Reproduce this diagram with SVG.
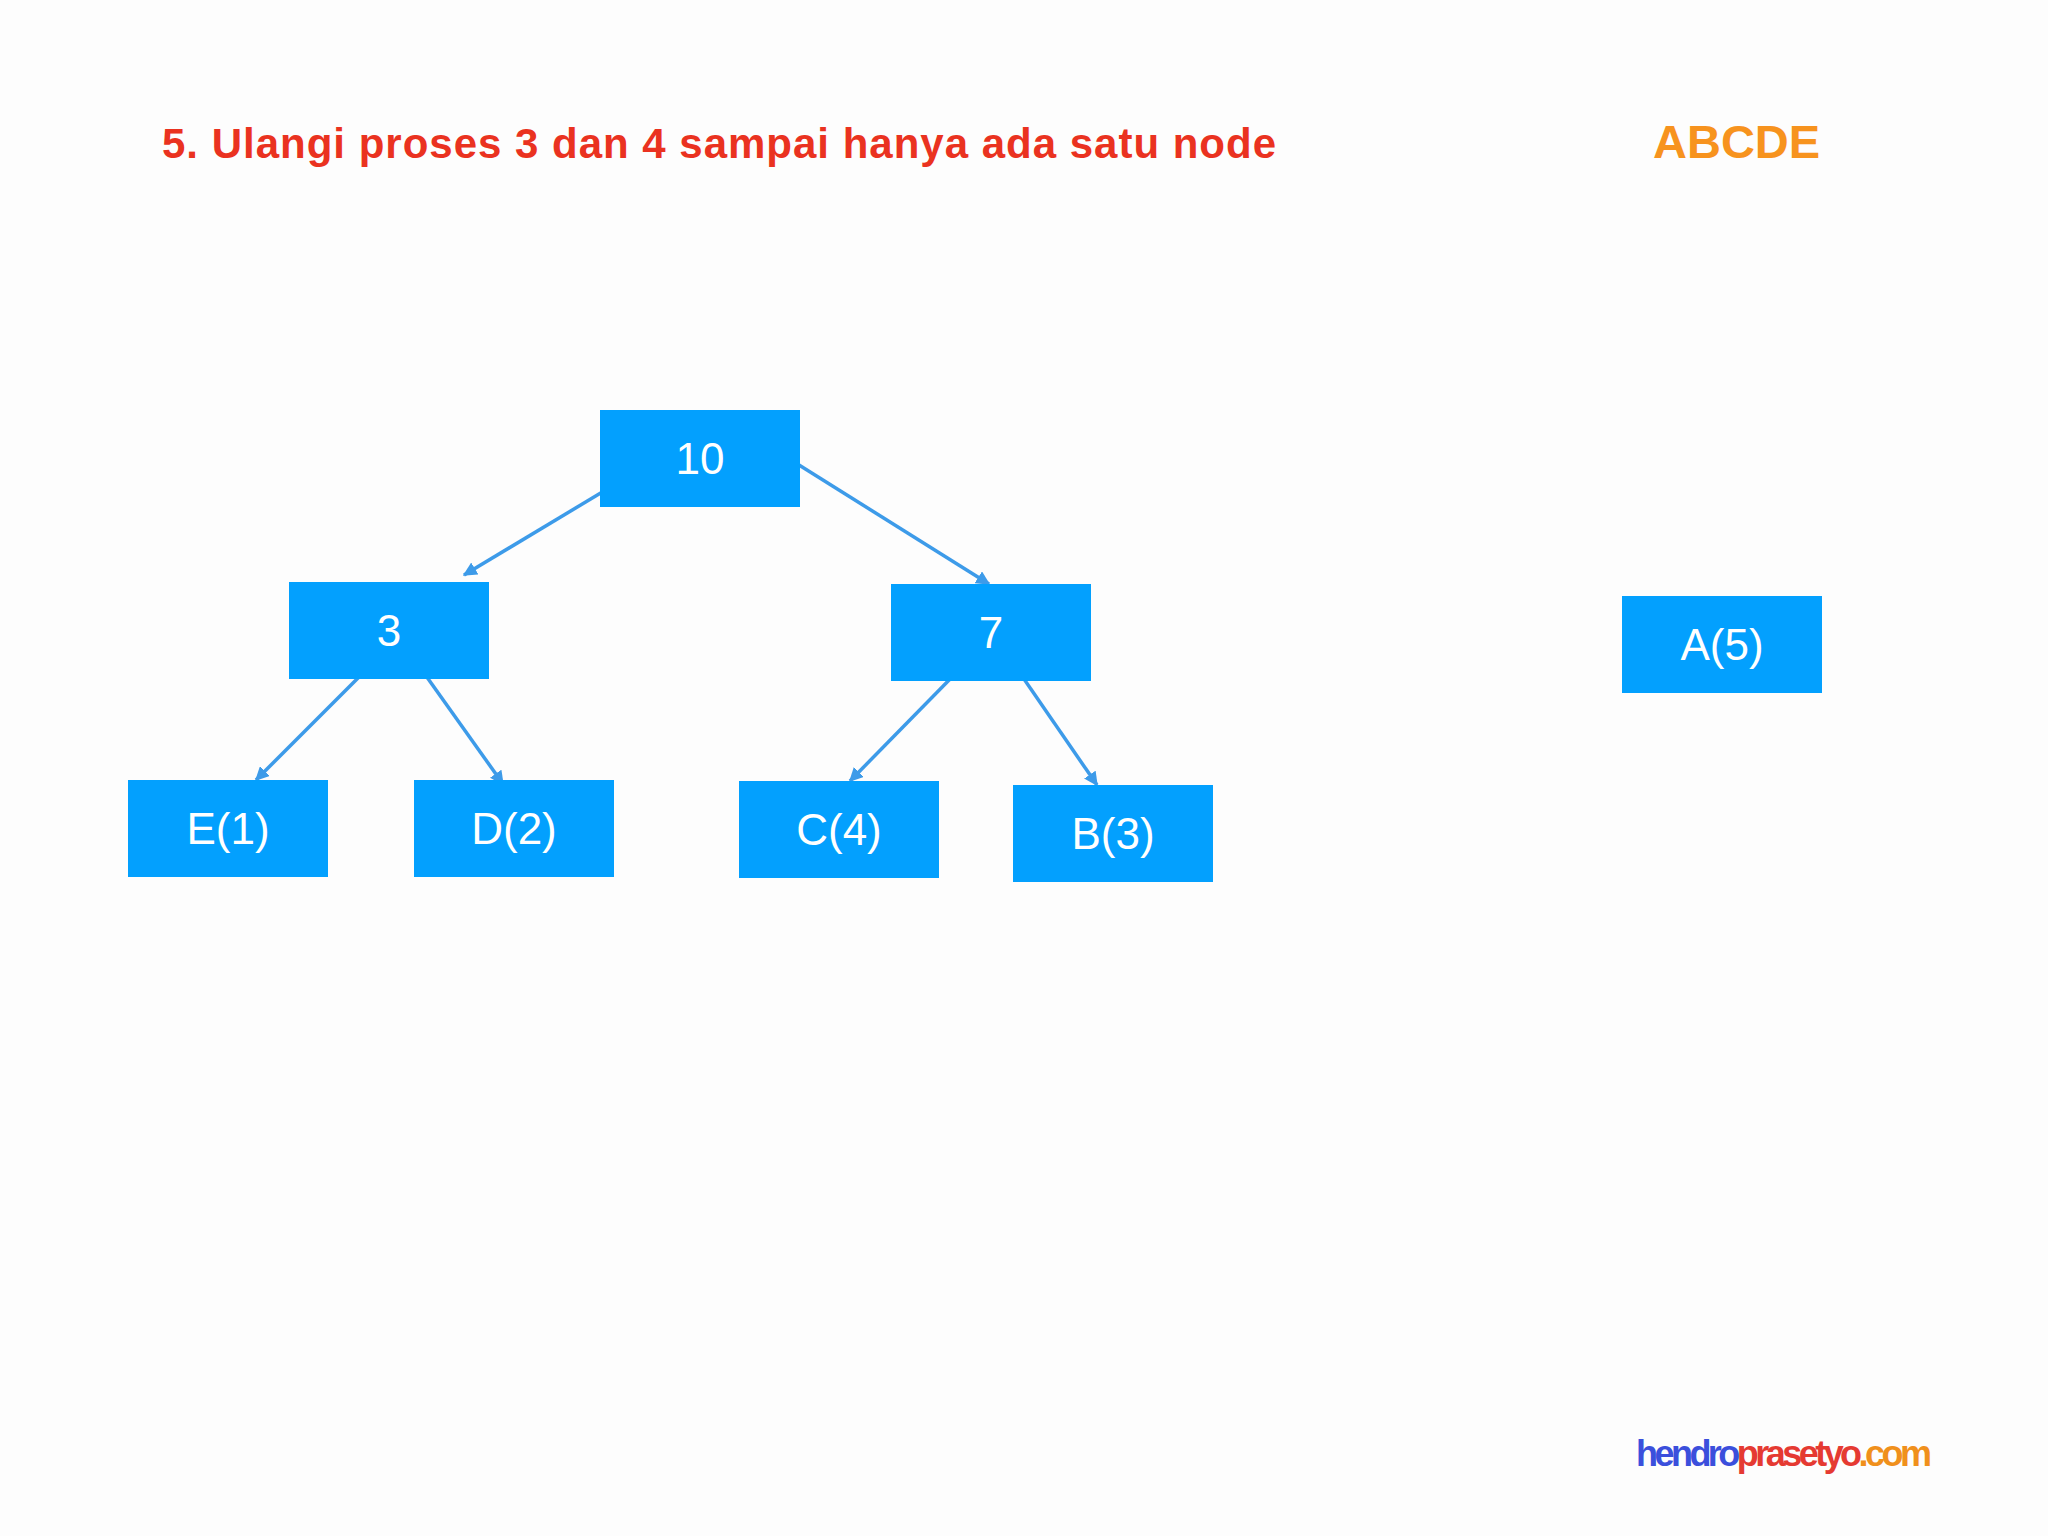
<svg xmlns="http://www.w3.org/2000/svg" width="2048" height="1536" viewBox="0 0 2048 1536">
<defs>
<marker id="ah" viewBox="0 0 10 10" refX="9" refY="5" markerWidth="4" markerHeight="4" orient="auto"><path d="M0,0 L10,5 L0,10 z" fill="#3d9be9"/></marker>
<style>
.n{fill:#03a0fe}
.t{font-family:"Liberation Sans",Arial,sans-serif;font-size:44px;fill:#fff;text-anchor:middle}
.c{stroke:#3d9be9;stroke-width:3.5;fill:none;marker-end:url(#ah)}
</style>
</defs>
<rect width="2048" height="1536" fill="#fdfdfd"/>
<text x="162" y="158" font-family="Liberation Sans,Arial,sans-serif" font-weight="bold" font-size="42" fill="#ea3220" textLength="1114">5. Ulangi proses 3 dan 4 sampai hanya ada satu node</text>
<text x="1653" y="158" font-family="Liberation Sans,Arial,sans-serif" font-weight="bold" font-size="47" fill="#f7931e">ABCDE</text>
<g id="connectors">
<line class="c" x1="614" y1="485" x2="464" y2="575"/>
<line class="c" x1="799" y1="465" x2="989" y2="584"/>
<line class="c" x1="362" y1="674" x2="256" y2="780"/>
<line class="c" x1="419" y1="666" x2="503" y2="784"/>
<line class="c" x1="955" y1="674" x2="850" y2="781"/>
<line class="c" x1="1015" y1="666" x2="1097" y2="785"/>
</g>
<g id="n10"><rect class="n" x="600" y="410" width="200" height="97"/><text class="t" x="700" y="474">10</text></g>
<g id="n3"><rect class="n" x="289" y="582" width="200" height="97"/><text class="t" x="389" y="646">3</text></g>
<g id="n7"><rect class="n" x="891" y="584" width="200" height="97"/><text class="t" x="991" y="648">7</text></g>
<g id="nE"><rect class="n" x="128" y="780" width="200" height="97"/><text class="t" x="228" y="844">E(1)</text></g>
<g id="nD"><rect class="n" x="414" y="780" width="200" height="97"/><text class="t" x="514" y="844">D(2)</text></g>
<g id="nC"><rect class="n" x="739" y="781" width="200" height="97"/><text class="t" x="839" y="845">C(4)</text></g>
<g id="nB"><rect class="n" x="1013" y="785" width="200" height="97"/><text class="t" x="1113" y="849">B(3)</text></g>
<g id="nA"><rect class="n" x="1622" y="596" width="200" height="97"/><text class="t" x="1722" y="660">A(5)</text></g>
<text x="1636" y="1466" font-family="Liberation Sans Narrow,Liberation Sans,sans-serif" font-weight="bold" font-size="36" textLength="296"><tspan fill="#3b4fdc">hendro</tspan><tspan fill="#e53a32">prasetyo</tspan><tspan fill="#f0901c">.com</tspan></text>
</svg>
